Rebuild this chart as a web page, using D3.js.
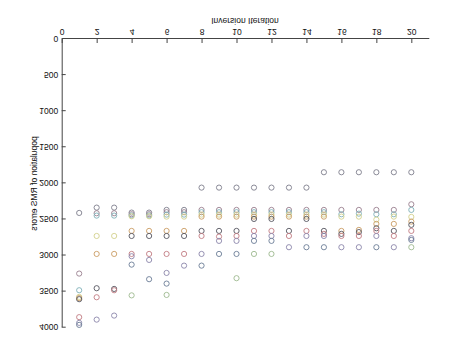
<!DOCTYPE html>
<html lang="en">
<head>
<meta charset="utf-8">
<title>Population of RMS errors</title>
<script src="https://d3js.org/d3.v7.min.js"></script>
<style>
  body { margin: 0; background: #fff; }
  svg { display: block; }
  .tick text { font-family: "Liberation Sans", Arial, sans-serif; font-size: 8.5px; fill: #111; }
  .title { font-family: "Liberation Sans", Arial, sans-serif; font-size: 8.5px; fill: #111; }
</style>
</head>
<body>
<svg width="474" height="355"></svg>
<script>
// iteration numbers
const iterations = d3.range(1, 21);

// RMS errors of the population members at every iteration
const rms1  = [2410, 3250, 3481, 3573, 3590, 3605, 3854, 3933, 3961];
const rms2  = [2336, 2414, 2447, 2729, 2978, 3453, 3578, 3888];
const rms3  = [2336, 2414, 2447, 2729, 2978, 3463, 3481, 3832];
const rms4  = [2405, 2428, 2445, 2456, 2659, 2729, 2978, 3010, 3126, 3552];
const rms5  = [2405, 2428, 2445, 2456, 2659, 2729, 2978, 3061, 3328];
const rms6  = [2368, 2400, 2433, 2461, 2659, 2729, 2978, 3241, 3389, 3546];
const rms7  = [2368, 2400, 2433, 2461, 2659, 2729, 2978, 3140];
const rms8  = [2059, 2368, 2400, 2433, 2461, 2659, 2729, 2978, 3140];
const rms9  = [2059, 2368, 2400, 2433, 2461, 2659, 2738, 2797, 2978];
const rms10 = [2059, 2368, 2400, 2433, 2461, 2659, 2729, 2797, 2978, 3314];
const rms11 = [2059, 2368, 2400, 2433, 2461, 2493, 2659, 2729, 2797, 2978];
const rms12 = [2059, 2368, 2400, 2433, 2461, 2493, 2659, 2729, 2797, 2978];
const rms13 = [2059, 2368, 2400, 2433, 2461, 2659, 2729, 2885];
const rms14 = [2059, 2368, 2400, 2433, 2461, 2493, 2659, 2729, 2885];
const rms15 = [1846, 2368, 2400, 2433, 2461, 2659, 2700, 2729, 2885];
const rms16 = [1846, 2368, 2428, 2461, 2659, 2700, 2729, 2885];
const rms17 = [1846, 2368, 2420, 2461, 2645, 2675, 2729, 2885];
const rms18 = [1846, 2368, 2428, 2502, 2562, 2622, 2659, 2729, 2885];
const rms19 = [1846, 2368, 2428, 2461, 2562, 2659, 2729, 2885];
const rms20 = [1846, 2290, 2368, 2465, 2530, 2575, 2659, 2760, 2784, 2885];

const population = [rms1, rms2, rms3, rms4, rms5, rms6, rms7, rms8, rms9, rms10,
                    rms11, rms12, rms13, rms14, rms15, rms16, rms17, rms18, rms19, rms20];

const xTicks = d3.range(0, 21, 2);
const yTicks = d3.range(0, 4001, 500);

const palette = ["#7e7e8c", "#9a7f8f", "#7fb0b8", "#d3d08c", "#c99c63",
                 "#55555f", "#c27c82", "#8b86aa", "#6b7d96", "#9db98f"];

const H = 355;
const svg = d3.select("svg");

// the whole picture is mirrored top to bottom
const g = svg.append("g")
    .attr("transform", "translate(0," + H + ") scale(1,-1)");

const x = d3.scaleLinear().domain([0, 21]).range([61.7, 428.8]);
const y = d3.scaleLinear().domain([0, 4000]).range([316, 27.3]);
const color = d3.scaleOrdinal().domain(d3.range(10)).range(palette);

const points = [];
population.forEach((vals, k) => {
  vals.forEach((v, i) => points.push({it: iterations[k], rms: v, idx: i}));
});

g.selectAll("circle")
  .data(points)
  .join("circle")
  .attr("cx", d => x(d.it))
  .attr("cy", d => y(d.rms))
  .attr("r", 2.6)
  .attr("fill", "none")
  .attr("stroke", d => color(d.idx % 10))
  .attr("stroke-width", 0.9);

const xAxis = g.append("g")
  .attr("transform", "translate(0,316)")
  .call(d3.axisBottom(x).tickValues(xTicks).tickFormat(d3.format("d"))
    .tickSizeInner(-4).tickSizeOuter(0).tickPadding(4));

const yAxis = g.append("g")
  .attr("transform", "translate(61.7,0)")
  .call(d3.axisLeft(y).tickValues(yTicks).tickFormat(d3.format("d"))
    .tickSizeInner(-4).tickSizeOuter(0).tickPadding(3.5));

[xAxis, yAxis].forEach(a => {
  a.select(".domain").attr("stroke", "#444");
  a.selectAll(".tick line").attr("stroke", "#444");
  a.attr("font-size", null).attr("font-family", null);
});

g.append("text")
  .attr("class", "title")
  .attr("x", 245)
  .attr("y", 337.5)
  .attr("text-anchor", "middle")
  .text("Inversion Iteration");

g.append("text")
  .attr("class", "title")
  .attr("transform", "translate(36.5," + (H - 183.5) + ") rotate(-90)")
  .attr("text-anchor", "middle")
  .text("population of RMS errors");
</script>
</body>
</html>
